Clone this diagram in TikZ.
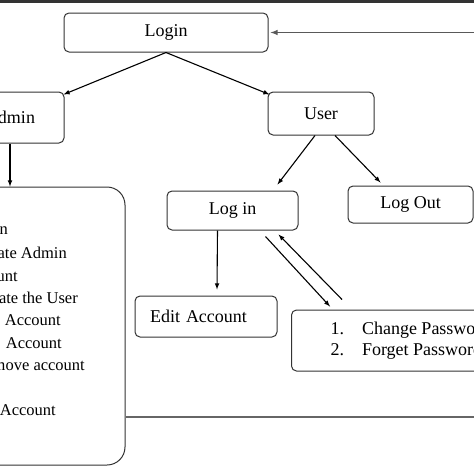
\documentclass[tikz,border=0pt]{standalone}
\usepackage{fontspec}
\setmainfont{Liberation Serif}
\usetikzlibrary{arrows}

\begin{document}
\begin{tikzpicture}[x=1pt,y=-1pt,
  box/.style={draw=black!80, line width=1pt, rounded corners=5pt, inner sep=0pt, text=black, font=\fontsize{18}{21}\selectfont},
  arr/.style={-latex, line width=1.1pt},
  item/.style={anchor=east, inner sep=0pt, text=black, font=\fontsize{16.5}{20}\selectfont}]
\path[use as bounding box] (0,0) rectangle (474,474);
\clip (0,0) rectangle (474,474);
\fill[black!80] (0,0) rectangle (474,2.5);

\node[box, minimum width=204pt, minimum height=39pt] (L) at (166,32.5) {Login};
\node[box, minimum width=108pt, minimum height=51pt] (A) at (10,117.5) {Admin};
\node[box, minimum width=106pt, minimum height=43pt] (U) at (321,113.5) {User};
\node[box, rounded corners=18pt, minimum width=230pt, minimum height=278pt] (AL) at (10,326) {};
\node[box, minimum width=131pt, minimum height=39pt] (I) at (232.5,210.5) {Log in};
\node[box, minimum width=125pt, minimum height=37pt] (O) at (410.5,204.5) {Log Out};
\node[box, text width=112pt, align=left, inner xsep=15pt, minimum height=41pt] (E) at (206,316.5) {Edit Account};
\node[box, anchor=west, inner xsep=39pt, minimum height=61pt] (P) at (291,340.5)
  {\begin{tabular}{@{}l@{\hspace{18pt}}l@{}}1.&Change Password\\2.&Forget Password\end{tabular}};

\node[item] (a1) at (8,231) {1.\ Login};
\node[item] (a2) at (67,253) {2.\ Create Admin};
\node[item] (a3) at (18,276) {Account};
\node[item] (a4) at (78,298) {3.\ Create the User};
\node[item] (a5) at (61,320) {Edit\ \ Account};
\node[item] (a6) at (62,343) {View\ \ Account};
\node[item] (a7) at (85,365) {4.\ Remove account};
\node[item] (a8) at (56,410) {5.\ Delete Account};

\coordinate (R) at (480,32.5);
\coordinate (S) at (480,416.5);

\draw[arr, black!65, line width=1.4pt] (R) -- ([xshift=2pt]L.east);
\draw[arr] (L.south) -- ([xshift=-1pt,yshift=-3pt]A.north east);
\draw[arr] (L.south) -- ([xshift=2pt,yshift=-3pt]U.north west);
\draw[arr] (A.south) -- (AL.north);
\draw[arr] ([xshift=-6pt]U.south) -- ([xshift=45pt,yshift=6pt]I.north);
\draw[arr] ([xshift=14pt]U.south) -- ([xshift=-30pt,yshift=3pt]O.north);
\draw[arr] ([xshift=-15pt]I.south) -- ([xshift=11pt,yshift=6pt]E.north);
\draw[arr] ([xshift=-33pt,yshift=-6pt]I.south east) -- ([xshift=39pt,yshift=3pt]P.north west);
\draw[arr] ([xshift=51pt,yshift=10pt]P.north west) -- ([xshift=-20pt,yshift=-4pt]I.south east);
\draw[black!60, line width=2pt] (AL.east |- S) -- (S);
\end{tikzpicture}
\end{document}
